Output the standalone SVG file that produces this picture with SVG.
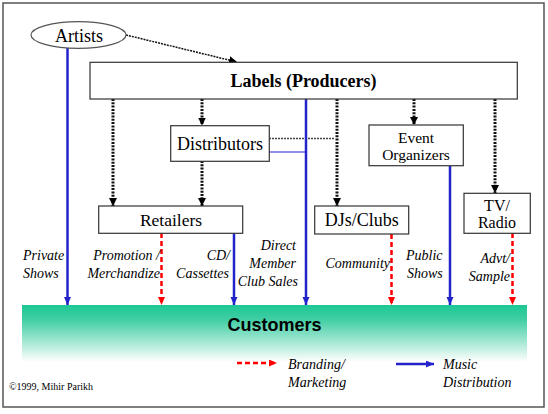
<svg xmlns="http://www.w3.org/2000/svg" width="548" height="414" viewBox="0 0 548 414">
<style>
.box{fill:#fff;stroke:#333;stroke-width:1.2}
.t{fill:#000}
.it{font-style:italic;font-size:14px;fill:#000}
.dot{stroke:#111;stroke-width:3;stroke-dasharray:2 1.3;fill:none}
.blue{stroke:#2323cc;stroke-width:2.5;fill:none}
.red{stroke:#ff0000;stroke-width:2.5;stroke-dasharray:5 3;fill:none}
</style>
<defs>
<marker id="ak" markerUnits="userSpaceOnUse" markerWidth="10" markerHeight="10" refX="8" refY="4" orient="auto"><path d="M0,0 L8,4 L0,8 Z" fill="#000"/></marker>
<marker id="ab" markerUnits="userSpaceOnUse" markerWidth="10" markerHeight="10" refX="8" refY="3.5" orient="auto"><path d="M0,0 L8,3.5 L0,7 Z" fill="#2323cc"/></marker>
<marker id="ar" markerUnits="userSpaceOnUse" markerWidth="10" markerHeight="10" refX="8" refY="3.5" orient="auto"><path d="M0,0 L8,3.5 L0,7 Z" fill="#ff0000"/></marker>
<linearGradient id="g" x1="0" y1="0" x2="0" y2="1">
<stop offset="0" stop-color="#1dc795"/>
<stop offset="0.25" stop-color="#3fcea3"/>
<stop offset="1" stop-color="#ffffff"/>
</linearGradient>
</defs>
<rect x="3" y="3" width="541" height="404" fill="#fff" stroke="#555" stroke-width="1.5"/>
<g id="customers">
<rect x="22" y="305" width="505" height="57" fill="url(#g)"/>
<text x="274.5" y="331" text-anchor="middle" font-family="Liberation Sans, Arial, sans-serif" font-weight="bold" font-size="18" fill="#000">Customers</text>
</g>
<g id="connectors">
<path d="M126,35 L237,62" stroke="#111" stroke-width="1.5" stroke-dasharray="2 1" fill="none" marker-end="url(#ak)"/>
<path class="dot" d="M113,99 V206" marker-end="url(#ak)"/>
<path class="dot" d="M202,99 V125.5" marker-end="url(#ak)"/>
<path class="dot" d="M337,99 V206" marker-end="url(#ak)"/>
<path class="dot" d="M414,99 V125" marker-end="url(#ak)"/>
<path class="dot" d="M495,99 V193" marker-end="url(#ak)"/>
<path class="dot" d="M202,161 V206" marker-end="url(#ak)"/>
<path d="M269,138.5 H335" stroke="#444" stroke-width="1.5" stroke-dasharray="2 1" fill="none"/>
<path d="M269,152 H306" stroke="#6a6ae0" stroke-width="1.5" fill="none"/>
<path class="blue" d="M67.5,48 V305" marker-end="url(#ab)"/>
<path class="blue" d="M306,99 V305" marker-end="url(#ab)"/>
<path class="blue" d="M234,233 V305" marker-end="url(#ab)"/>
<path class="blue" d="M450,166 V305" marker-end="url(#ab)"/>
<path class="red" d="M161.5,233 V305" marker-end="url(#ar)"/>
<path class="red" d="M391.5,234 V305" marker-end="url(#ar)"/>
<path class="red" d="M512.5,233 V305" marker-end="url(#ar)"/>
</g>
<g font-family="Liberation Serif, Times New Roman, serif">
<g id="artists">
<ellipse cx="78.5" cy="35" rx="47.5" ry="13.3" fill="#fff" stroke="#555" stroke-width="1.2"/>
<text class="t" x="79" y="41.5" text-anchor="middle" font-size="18">Artists</text>
</g>
<g id="labels">
<rect class="box" x="90" y="62.3" width="427.3" height="36.7"/>
<text class="t" x="303.5" y="87" text-anchor="middle" font-size="18" font-weight="bold">Labels (Producers)</text>
</g>
<g id="distributors">
<rect class="box" x="170.7" y="125.7" width="98.6" height="35.6"/>
<text class="t" x="220" y="150" text-anchor="middle" font-size="18">Distributors</text>
</g>
<g id="event-organizers">
<rect class="box" x="369" y="125" width="94.3" height="40.7"/>
<text class="t" x="416" y="142.5" text-anchor="middle" font-size="15.5">Event</text>
<text class="t" x="416" y="160" text-anchor="middle" font-size="15.5">Organizers</text>
</g>
<g id="tv-radio">
<rect class="box" x="464" y="193.3" width="66.3" height="40"/>
<text class="t" x="497" y="211" text-anchor="middle" font-size="16">TV/</text>
<text class="t" x="497" y="227.5" text-anchor="middle" font-size="16">Radio</text>
</g>
<g id="djs-clubs">
<rect class="box" x="314.7" y="206" width="94" height="28"/>
<text class="t" x="361.7" y="225.5" text-anchor="middle" font-size="18">DJs/Clubs</text>
</g>
<g id="retailers">
<rect class="box" x="98.7" y="206" width="144" height="27.3"/>
<text class="t" x="171" y="225.5" text-anchor="middle" font-size="17.5">Retailers</text>
</g>
<g id="edge-labels">
<text class="it" x="23" y="260">Private</text>
<text class="it" x="23" y="278">Shows</text>
<text class="it" x="160" y="260" text-anchor="end">Promotion /</text>
<text class="it" x="160" y="278" text-anchor="end">Merchandize</text>
<text class="it" x="230" y="260" text-anchor="end">CD/</text>
<text class="it" x="229" y="278" text-anchor="end">Cassettes</text>
<text class="it" x="296" y="250" text-anchor="end">Direct</text>
<text class="it" x="296" y="268" text-anchor="end">Member</text>
<text class="it" x="298" y="286" text-anchor="end">Club Sales</text>
<text class="it" x="390" y="268" text-anchor="end">Community</text>
<text class="it" x="406" y="260">Public</text>
<text class="it" x="407" y="278">Shows</text>
<text class="it" x="510" y="263" text-anchor="end">Advt/</text>
<text class="it" x="510" y="281" text-anchor="end">Sample</text>
</g>
<g id="legend">
<path class="red" d="M237,363 H277" stroke-dasharray="4 3" marker-end="url(#ar)"/>
<text class="it" x="288" y="369">Branding/</text>
<text class="it" x="288" y="387">Marketing</text>
<path class="blue" d="M396,364 H434" marker-end="url(#ab)"/>
<text class="it" x="443" y="369">Music</text>
<text class="it" x="443" y="387">Distribution</text>
</g>
<text class="t" x="9" y="390" font-size="10">©1999, Mihir Parikh</text>
</g>
</svg>
